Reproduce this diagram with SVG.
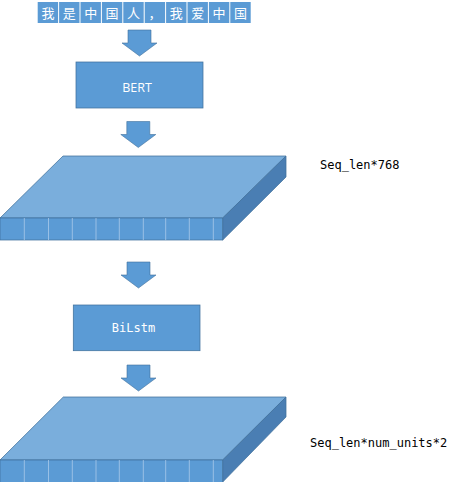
<svg xmlns="http://www.w3.org/2000/svg" width="474" height="482" viewBox="0 0 474 482">
<style>
.cell{fill:#5b9bd5}
.zh{fill:#fff;font-family:"Noto Sans CJK SC",sans-serif;font-size:13px;text-anchor:middle}
.box{fill:#5b9bd5;stroke:#41719c;stroke-width:0.75}
.lbl{fill:#fff;text-anchor:middle;font-size:12.5px}
.mono{font-family:"DejaVu Sans Mono","Liberation Mono",monospace;font-size:12px}
.arrow{fill:#5b9bd5;stroke:#41719c;stroke-width:0.6}
.top{fill:#7aaedc;stroke:#41719c;stroke-width:0.75}
.front{fill:#5b9bd5;stroke:#41719c;stroke-width:0.75}
.side{fill:#4a7eb3;stroke:#41719c;stroke-width:0.75}
.div{stroke:#a9c9ea;stroke-width:0.8}
.note{fill:#000}
</style>
<defs>
<path id="arr" d="M-11.5,0 H11.5 V13 H17.5 L0,26 L-17.5,13 H-11.5 Z"/>
<g id="divs">
<line x1="24.3" y1="0" x2="24.3" y2="22"/>
<line x1="48.5" y1="0" x2="48.5" y2="22"/>
<line x1="72.3" y1="0" x2="72.3" y2="22"/>
<line x1="96" y1="0" x2="96" y2="22"/>
<line x1="119.3" y1="0" x2="119.3" y2="22"/>
<line x1="143.3" y1="0" x2="143.3" y2="22"/>
<line x1="165.7" y1="0" x2="165.7" y2="22"/>
<line x1="189.3" y1="0" x2="189.3" y2="22"/>
<line x1="213.3" y1="0" x2="213.3" y2="22"/>
</g>
</defs>
<rect width="474" height="482" fill="#fff"/>
<g id="input">
<rect class="cell" x="37.7" y="2" width="20.4" height="21"/>
<rect class="cell" x="59.1" y="2" width="20.4" height="21"/>
<rect class="cell" x="80.5" y="2" width="20.4" height="21"/>
<rect class="cell" x="101.9" y="2" width="20.4" height="21"/>
<rect class="cell" x="123.3" y="2" width="20.4" height="21"/>
<rect class="cell" x="144.7" y="2" width="20.4" height="21"/>
<rect class="cell" x="166.1" y="2" width="20.4" height="21"/>
<rect class="cell" x="187.5" y="2" width="20.4" height="21"/>
<rect class="cell" x="208.9" y="2" width="20.4" height="21"/>
<rect class="cell" x="230.3" y="2" width="20.4" height="21"/>
<text class="zh" x="47.9" y="17.5">我</text>
<text class="zh" x="69.3" y="17.5">是</text>
<text class="zh" x="90.7" y="17.5">中</text>
<text class="zh" x="112.1" y="17.5">国</text>
<text class="zh" x="133.5" y="17.5">人</text>
<text class="zh" x="154.9" y="17.5">，</text>
<text class="zh" x="176.3" y="17.5">我</text>
<text class="zh" x="197.7" y="17.5">爱</text>
<text class="zh" x="219.1" y="17.5">中</text>
<text class="zh" x="240.5" y="17.5">国</text>
</g>
<g id="connectors">
<use href="#arr" class="arrow" x="139.5" y="30"/>
<use href="#arr" class="arrow" x="138.3" y="121.5"/>
<use href="#arr" class="arrow" x="138.5" y="262"/>
<use href="#arr" class="arrow" x="138.5" y="365"/>
</g>
<g id="bert">
<rect class="box" x="76" y="62" width="127" height="46"/>
<text class="lbl" x="137" y="91.5" font-family="Open Sans, sans-serif">BERT</text>
</g>
<g id="tensor1">
<polygon class="top" points="63,156 286,156 222.7,218 0,218"/>
<polygon class="side" points="286,156 286,177 222.7,240 222.7,218"/>
<rect class="front" x="0" y="218" width="222.7" height="22"/>
<use href="#divs" class="div" x="0" y="218"/>
</g>
<text id="label1" class="mono note" x="320" y="169">Seq_len*768</text>
<g id="bilstm">
<rect class="box" x="73.3" y="305" width="126.7" height="45.7"/>
<text class="lbl mono" x="133.5" y="332">BiLstm</text>
</g>
<g id="tensor2">
<polygon class="top" points="63.3,397 286,397 222.7,460 0,460"/>
<polygon class="side" points="286,397 286,417 222.7,482 222.7,460"/>
<rect class="front" x="0" y="460" width="222.7" height="24"/>
<use href="#divs" class="div" x="0" y="460"/>
</g>
<text id="label2" class="mono note" x="310" y="446.5">Seq_len*num_units*2</text>
</svg>
